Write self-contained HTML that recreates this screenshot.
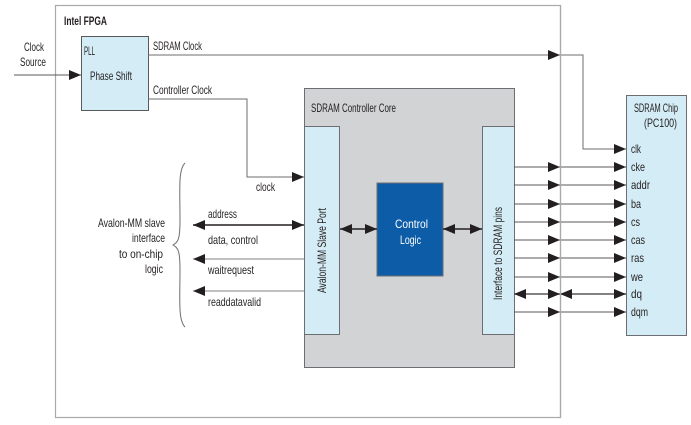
<!DOCTYPE html>
<html><head><meta charset="utf-8"><style>
html,body{margin:0;padding:0;background:#fff;width:691px;height:425px;overflow:hidden}
text{font-family:"Liberation Sans",sans-serif;font-size:12px;fill:#231f20}
</style></head><body>
<svg width="691" height="425" viewBox="0 0 691 425" xmlns="http://www.w3.org/2000/svg">
<defs>
<marker id="a" markerWidth="12" markerHeight="10" refX="12" refY="5" orient="auto-start-reverse" markerUnits="userSpaceOnUse">
<path d="M0,0 L12,5 L0,10 Z" fill="#231f20"/></marker>
</defs>
<rect x="55.5" y="5.5" width="505" height="412" fill="#fff" stroke="#a7a9ac" stroke-width="1.2"/>
<text x="64" y="25" style="font-weight:bold" textLength="43" lengthAdjust="spacingAndGlyphs">Intel FPGA</text>
<rect x="81.5" y="36.5" width="67" height="74" fill="#d4ecf5" stroke="#58595b"/>
<text x="84" y="55" textLength="11" lengthAdjust="spacingAndGlyphs">PLL</text>
<text x="90" y="80" textLength="42" lengthAdjust="spacingAndGlyphs">Phase Shift</text>
<text x="24" y="51" textLength="20" lengthAdjust="spacingAndGlyphs">Clock</text>
<text x="20" y="66" textLength="26" lengthAdjust="spacingAndGlyphs">Source</text>
<line x1="14" y1="75" x2="81" y2="75" stroke="#58595b" marker-end="url(#a)"/>
<text x="153" y="50" textLength="49" lengthAdjust="spacingAndGlyphs">SDRAM Clock</text>
<polyline points="148,55 560,55" fill="none" stroke="#6d6e71" marker-end="url(#a)"/>
<polyline points="560,55 583,55 583,149 626,149" fill="none" stroke="#6d6e71" marker-end="url(#a)"/>
<text x="153" y="94" textLength="59" lengthAdjust="spacingAndGlyphs">Controller Clock</text>
<polyline points="148,99 247,99 247,177 304,177" fill="none" stroke="#6d6e71" marker-end="url(#a)"/>
<text x="256" y="191" textLength="19" lengthAdjust="spacingAndGlyphs">clock</text>
<rect x="304.5" y="88.5" width="210" height="279" fill="#d1d3d4" stroke="#6d6e71"/>
<text x="311" y="112" textLength="85" lengthAdjust="spacingAndGlyphs">SDRAM Controller Core</text>
<rect x="304.5" y="126.5" width="35" height="208" fill="#d4ecf5" stroke="#6d6e71"/>
<text transform="translate(326,293) rotate(-90)" textLength="85" lengthAdjust="spacingAndGlyphs">Avalon-MM Slave Port</text>
<rect x="377" y="183" width="66" height="93" fill="#0d5ca8" stroke="#6d6e71"/>
<text x="395" y="228" style="fill:#fff" textLength="33" lengthAdjust="spacingAndGlyphs">Control</text>
<text x="400" y="244" style="fill:#fff" textLength="21" lengthAdjust="spacingAndGlyphs">Logic</text>
<rect x="482.5" y="126.5" width="32" height="208" fill="#d4ecf5" stroke="#6d6e71"/>
<text transform="translate(502,300) rotate(-90)" textLength="93" lengthAdjust="spacingAndGlyphs">Interface to SDRAM pins</text>
<line x1="340" y1="229" x2="377" y2="229" stroke="#231f20" stroke-width="1.5" marker-start="url(#a)" marker-end="url(#a)"/>
<line x1="443" y1="229" x2="482" y2="229" stroke="#231f20" stroke-width="1.5" marker-start="url(#a)" marker-end="url(#a)"/>
<text x="208" y="218" textLength="29" lengthAdjust="spacingAndGlyphs">address</text>
<text x="208" y="244" textLength="50" lengthAdjust="spacingAndGlyphs">data, control</text>
<text x="208" y="274" textLength="46" lengthAdjust="spacingAndGlyphs">waitrequest</text>
<text x="208" y="306" textLength="53" lengthAdjust="spacingAndGlyphs">readdatavalid</text>
<line x1="193" y1="225" x2="304" y2="225" stroke="#231f20" stroke-width="1.5" marker-start="url(#a)" marker-end="url(#a)"/>
<line x1="193" y1="259" x2="304" y2="259" stroke="#808285" marker-start="url(#a)"/>
<line x1="193" y1="291" x2="304" y2="291" stroke="#808285" marker-start="url(#a)"/>
<path d="M185,163 C178,170 180,190 180,220 C180,240 178,242 173,245 C178,248 180,250 180,270 C180,300 178,320 185,327" fill="none" stroke="#6d6e71"/>
<text x="98" y="227" textLength="67" lengthAdjust="spacingAndGlyphs">Avalon-MM slave</text>
<text x="132" y="242" textLength="33" lengthAdjust="spacingAndGlyphs">interface</text>
<text x="119" y="258" textLength="44" lengthAdjust="spacingAndGlyphs">to on-chip</text>
<text x="145" y="273" textLength="18" lengthAdjust="spacingAndGlyphs">logic</text>
<rect x="626.5" y="95.5" width="60" height="240" fill="#d4ecf5" stroke="#6d6e71"/>
<text x="634" y="112" textLength="44" lengthAdjust="spacingAndGlyphs">SDRAM Chip</text>
<text x="644" y="127" textLength="33" lengthAdjust="spacingAndGlyphs">(PC100)</text>
<g stroke="#58595b">
<line x1="514" y1="167" x2="560" y2="167" marker-end="url(#a)"/><line x1="560" y1="167" x2="626" y2="167" marker-end="url(#a)"/>
<line x1="514" y1="185" x2="560" y2="185" marker-end="url(#a)"/><line x1="560" y1="185" x2="626" y2="185" marker-end="url(#a)"/>
<line x1="514" y1="204" x2="560" y2="204" marker-end="url(#a)"/><line x1="560" y1="204" x2="626" y2="204" marker-end="url(#a)"/>
<line x1="514" y1="222" x2="560" y2="222" marker-end="url(#a)"/><line x1="560" y1="222" x2="626" y2="222" marker-end="url(#a)"/>
<line x1="514" y1="240" x2="560" y2="240" marker-end="url(#a)"/><line x1="560" y1="240" x2="626" y2="240" marker-end="url(#a)"/>
<line x1="514" y1="258" x2="560" y2="258" marker-end="url(#a)"/><line x1="560" y1="258" x2="626" y2="258" marker-end="url(#a)"/>
<line x1="514" y1="277" x2="560" y2="277" marker-end="url(#a)"/><line x1="560" y1="277" x2="626" y2="277" marker-end="url(#a)"/>
<line x1="514" y1="294" x2="560" y2="294" stroke-width="1.5" marker-start="url(#a)" marker-end="url(#a)"/><line x1="560" y1="294" x2="626" y2="294" stroke-width="1.5" marker-start="url(#a)" marker-end="url(#a)"/>
<line x1="514" y1="312" x2="560" y2="312" marker-end="url(#a)"/><line x1="560" y1="312" x2="626" y2="312" marker-end="url(#a)"/>
</g>
<line x1="560.5" y1="5" x2="560.5" y2="418" stroke="#a7a9ac" stroke-width="1.2"/>
<g>
<text x="631" y="153" textLength="10" lengthAdjust="spacingAndGlyphs">clk</text>
<text x="631" y="171" textLength="14" lengthAdjust="spacingAndGlyphs">cke</text>
<text x="631" y="189" textLength="19" lengthAdjust="spacingAndGlyphs">addr</text>
<text x="631" y="208" textLength="10" lengthAdjust="spacingAndGlyphs">ba</text>
<text x="631" y="226" textLength="9" lengthAdjust="spacingAndGlyphs">cs</text>
<text x="631" y="244" textLength="14" lengthAdjust="spacingAndGlyphs">cas</text>
<text x="631" y="262" textLength="13" lengthAdjust="spacingAndGlyphs">ras</text>
<text x="631" y="281" textLength="12" lengthAdjust="spacingAndGlyphs">we</text>
<text x="631" y="298" textLength="11" lengthAdjust="spacingAndGlyphs">dq</text>
<text x="631" y="316" textLength="17" lengthAdjust="spacingAndGlyphs">dqm</text>
</g>
</svg>
</body></html>
